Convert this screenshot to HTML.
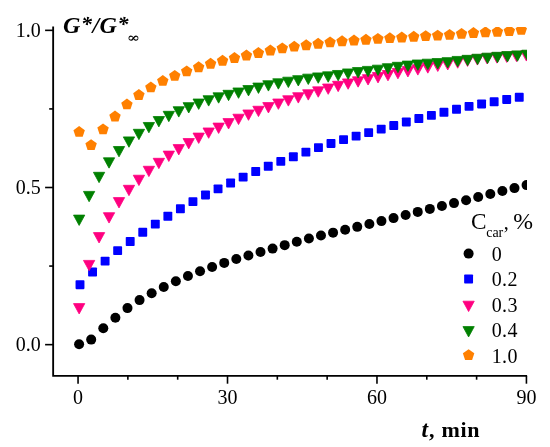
<!DOCTYPE html>
<html><head><meta charset="utf-8"><style>
html,body{margin:0;padding:0;background:#fff;}
body{width:550px;height:447px;overflow:hidden;}
svg{display:block;}
</style></head><body>
<svg width="550" height="447" viewBox="0 0 550 447">
<defs><clipPath id="pc"><rect x="53" y="27" width="474" height="348.6"/></clipPath></defs>
<g clip-path="url(#pc)">
<g fill="#000000"><circle cx="79.10" cy="344.30" r="5"/><circle cx="91.19" cy="339.60" r="5"/><circle cx="103.29" cy="328.20" r="5"/><circle cx="115.38" cy="317.80" r="5"/><circle cx="127.48" cy="308.10" r="5"/><circle cx="139.57" cy="300.10" r="5"/><circle cx="151.66" cy="293.25" r="5"/><circle cx="163.76" cy="286.98" r="5"/><circle cx="175.85" cy="281.23" r="5"/><circle cx="187.95" cy="275.93" r="5"/><circle cx="200.04" cy="271.23" r="5"/><circle cx="212.13" cy="266.98" r="5"/><circle cx="224.23" cy="262.89" r="5"/><circle cx="236.32" cy="259.05" r="5"/><circle cx="248.42" cy="255.45" r="5"/><circle cx="260.51" cy="252.00" r="5"/><circle cx="272.60" cy="248.61" r="5"/><circle cx="284.70" cy="245.15" r="5"/><circle cx="296.79" cy="241.76" r="5"/><circle cx="308.89" cy="238.57" r="5"/><circle cx="320.98" cy="235.57" r="5"/><circle cx="333.07" cy="232.65" r="5"/><circle cx="345.17" cy="229.72" r="5"/><circle cx="357.26" cy="226.85" r="5"/><circle cx="369.36" cy="224.03" r="5"/><circle cx="381.45" cy="221.12" r="5"/><circle cx="393.54" cy="218.10" r="5"/><circle cx="405.64" cy="215.00" r="5"/><circle cx="417.73" cy="211.89" r="5"/><circle cx="429.83" cy="208.88" r="5"/><circle cx="441.92" cy="205.95" r="5"/><circle cx="454.01" cy="203.12" r="5"/><circle cx="466.11" cy="200.20" r="5"/><circle cx="478.20" cy="197.03" r="5"/><circle cx="490.30" cy="193.95" r="5"/><circle cx="502.39" cy="191.05" r="5"/><circle cx="514.48" cy="188.10" r="5"/><circle cx="526.58" cy="185.10" r="5"/></g>
<g fill="#0000FF"><rect x="75.55" y="280.25" width="8.90" height="8.90" rx="0.8"/><rect x="88.10" y="267.55" width="8.90" height="8.90" rx="0.8"/><rect x="100.65" y="256.65" width="8.90" height="8.90" rx="0.8"/><rect x="113.20" y="246.15" width="8.90" height="8.90" rx="0.8"/><rect x="125.75" y="237.05" width="8.90" height="8.90" rx="0.8"/><rect x="138.30" y="227.85" width="8.90" height="8.90" rx="0.8"/><rect x="150.85" y="219.65" width="8.90" height="8.90" rx="0.8"/><rect x="163.40" y="211.78" width="8.90" height="8.90" rx="0.8"/><rect x="175.95" y="204.30" width="8.90" height="8.90" rx="0.8"/><rect x="188.50" y="197.15" width="8.90" height="8.90" rx="0.8"/><rect x="201.05" y="190.50" width="8.90" height="8.90" rx="0.8"/><rect x="213.60" y="184.43" width="8.90" height="8.90" rx="0.8"/><rect x="226.15" y="178.55" width="8.90" height="8.90" rx="0.8"/><rect x="238.70" y="172.70" width="8.90" height="8.90" rx="0.8"/><rect x="251.25" y="167.07" width="8.90" height="8.90" rx="0.8"/><rect x="263.80" y="161.78" width="8.90" height="8.90" rx="0.8"/><rect x="276.35" y="156.89" width="8.90" height="8.90" rx="0.8"/><rect x="288.90" y="152.33" width="8.90" height="8.90" rx="0.8"/><rect x="301.45" y="147.71" width="8.90" height="8.90" rx="0.8"/><rect x="314.00" y="143.18" width="8.90" height="8.90" rx="0.8"/><rect x="326.55" y="139.00" width="8.90" height="8.90" rx="0.8"/><rect x="339.10" y="135.20" width="8.90" height="8.90" rx="0.8"/><rect x="351.65" y="131.65" width="8.90" height="8.90" rx="0.8"/><rect x="364.20" y="128.15" width="8.90" height="8.90" rx="0.8"/><rect x="376.75" y="124.65" width="8.90" height="8.90" rx="0.8"/><rect x="389.30" y="121.10" width="8.90" height="8.90" rx="0.8"/><rect x="401.85" y="117.52" width="8.90" height="8.90" rx="0.8"/><rect x="414.40" y="114.10" width="8.90" height="8.90" rx="0.8"/><rect x="426.95" y="110.88" width="8.90" height="8.90" rx="0.8"/><rect x="439.50" y="107.83" width="8.90" height="8.90" rx="0.8"/><rect x="452.05" y="104.83" width="8.90" height="8.90" rx="0.8"/><rect x="464.60" y="101.90" width="8.90" height="8.90" rx="0.8"/><rect x="477.15" y="99.48" width="8.90" height="8.90" rx="0.8"/><rect x="489.70" y="97.30" width="8.90" height="8.90" rx="0.8"/><rect x="502.25" y="95.00" width="8.90" height="8.90" rx="0.8"/><rect x="514.80" y="92.85" width="8.90" height="8.90" rx="0.8"/></g>
<g fill="#FF0080" stroke="#FF0080" stroke-width="0.8" stroke-linejoin="round"><path d="M73.50 303.60H84.80L79.15 313.95Z"/><path d="M83.46 260.40H94.76L89.11 270.75Z"/><path d="M93.42 232.60H104.72L99.07 242.95Z"/><path d="M103.39 212.70H114.69L109.04 223.05Z"/><path d="M113.35 197.60H124.65L119.00 207.95Z"/><path d="M123.31 185.30H134.61L128.96 195.65Z"/><path d="M133.27 175.22H144.57L138.92 185.57Z"/><path d="M143.23 166.27H154.53L148.88 176.62Z"/><path d="M153.20 158.30H164.50L158.85 168.65Z"/><path d="M163.16 151.12H174.46L168.81 161.47Z"/><path d="M173.12 144.60H184.42L178.77 154.95Z"/><path d="M183.08 138.55H194.38L188.73 148.90Z"/><path d="M193.04 133.08H204.34L198.69 143.43Z"/><path d="M203.01 127.97H214.31L208.66 138.32Z"/><path d="M212.97 123.10H224.27L218.62 133.45Z"/><path d="M222.93 118.62H234.23L228.58 128.97Z"/><path d="M232.89 114.22H244.19L238.54 124.58Z"/><path d="M242.85 109.97H254.15L248.50 120.33Z"/><path d="M252.82 106.25H264.12L258.47 116.60Z"/><path d="M262.78 102.60H274.08L268.43 112.95Z"/><path d="M272.74 99.01H284.04L278.39 109.36Z"/><path d="M282.70 95.77H294.00L288.35 106.12Z"/><path d="M292.66 92.72H303.96L298.31 103.08Z"/><path d="M302.63 89.77H313.93L308.28 100.12Z"/><path d="M312.59 86.87H323.89L318.24 97.22Z"/><path d="M322.55 84.00H333.85L328.20 94.35Z"/><path d="M332.51 81.30H343.81L338.16 91.65Z"/><path d="M342.47 78.92H353.77L348.12 89.27Z"/><path d="M352.44 76.82H363.74L358.09 87.17Z"/><path d="M362.40 74.67H373.70L368.05 85.03Z"/><path d="M372.36 72.55H383.66L378.01 82.90Z"/><path d="M382.32 70.50H393.62L387.97 80.85Z"/><path d="M392.28 68.47H403.58L397.93 78.83Z"/><path d="M402.25 66.62H413.55L407.90 76.98Z"/><path d="M412.21 64.75H423.51L417.86 75.10Z"/><path d="M422.17 62.80H433.47L427.82 73.15Z"/><path d="M432.13 61.13H443.43L437.78 71.48Z"/><path d="M442.09 59.63H453.39L447.74 69.98Z"/><path d="M452.06 57.86H463.36L457.71 68.21Z"/><path d="M461.87 56.09H473.17L467.52 66.44Z"/><path d="M471.68 54.74H482.98L477.33 65.09Z"/><path d="M481.49 53.66H492.79L487.14 64.01Z"/><path d="M491.30 52.80H502.60L496.95 63.15Z"/><path d="M501.12 52.10H512.42L506.77 62.45Z"/><path d="M510.93 51.40H522.23L516.58 61.75Z"/><path d="M520.74 50.70H532.04L526.39 61.05Z"/></g>
<g fill="#008000" stroke="#008000" stroke-width="0.8" stroke-linejoin="round"><path d="M73.50 215.10H84.80L79.15 225.45Z"/><path d="M83.46 191.40H94.76L89.11 201.75Z"/><path d="M93.42 172.30H104.72L99.07 182.65Z"/><path d="M103.39 157.80H114.69L109.04 168.15Z"/><path d="M113.35 146.50H124.65L119.00 156.85Z"/><path d="M123.31 136.90H134.61L128.96 147.25Z"/><path d="M133.27 129.30H144.57L138.92 139.65Z"/><path d="M143.23 122.47H154.53L148.88 132.82Z"/><path d="M153.20 116.53H164.50L158.85 126.88Z"/><path d="M163.16 111.32H174.46L168.81 121.67Z"/><path d="M173.12 106.72H184.42L178.77 117.08Z"/><path d="M183.08 102.65H194.38L188.73 113.00Z"/><path d="M193.04 99.03H204.34L198.69 109.38Z"/><path d="M203.01 95.73H214.31L208.66 106.08Z"/><path d="M212.97 92.82H224.27L218.62 103.17Z"/><path d="M222.93 90.30H234.23L228.58 100.65Z"/><path d="M232.89 87.97H244.19L238.54 98.33Z"/><path d="M242.85 85.57H254.15L248.50 95.92Z"/><path d="M252.82 83.05H264.12L258.47 93.40Z"/><path d="M262.78 80.72H274.08L268.43 91.08Z"/><path d="M272.74 78.79H284.04L278.39 89.14Z"/><path d="M282.70 77.19H294.00L288.35 87.54Z"/><path d="M292.66 75.66H303.96L298.31 86.01Z"/><path d="M302.63 74.15H313.93L308.28 84.50Z"/><path d="M312.59 72.92H323.89L318.24 83.27Z"/><path d="M322.55 71.85H333.85L328.20 82.20Z"/><path d="M332.51 70.47H343.81L338.16 80.83Z"/><path d="M342.47 68.94H353.77L348.12 79.29Z"/><path d="M352.44 67.57H363.74L358.09 77.92Z"/><path d="M362.40 66.40H373.70L368.05 76.75Z"/><path d="M372.36 65.16H383.66L378.01 75.51Z"/><path d="M382.32 63.69H393.62L387.97 74.04Z"/><path d="M392.28 62.30H403.58L397.93 72.65Z"/><path d="M402.25 61.07H413.55L407.90 71.42Z"/><path d="M412.21 59.97H423.51L417.86 70.32Z"/><path d="M422.17 59.20H433.47L427.82 69.55Z"/><path d="M432.13 58.57H443.43L437.78 68.92Z"/><path d="M442.09 57.63H453.39L447.74 67.98Z"/><path d="M452.06 56.43H463.36L457.71 66.78Z"/><path d="M462.02 55.33H473.32L467.67 65.67Z"/><path d="M471.98 54.24H483.28L477.63 64.59Z"/><path d="M481.94 53.16H493.24L487.59 63.51Z"/><path d="M491.90 52.30H503.20L497.55 62.65Z"/><path d="M501.87 51.60H513.17L507.52 61.95Z"/><path d="M511.83 50.90H523.13L517.48 61.25Z"/><path d="M521.79 50.20H533.09L527.44 60.55Z"/></g>
<g fill="#FF8000"><polygon points="79.15,126.00 84.86,130.15 82.68,136.85 75.62,136.85 73.44,130.15"/><polygon points="91.10,139.20 96.81,143.35 94.63,150.05 87.57,150.05 85.39,143.35"/><polygon points="103.05,123.40 108.76,127.55 106.58,134.25 99.52,134.25 97.34,127.55"/><polygon points="115.00,110.60 120.71,114.75 118.53,121.45 111.47,121.45 109.29,114.75"/><polygon points="126.95,98.50 132.66,102.65 130.48,109.35 123.42,109.35 121.24,102.65"/><polygon points="138.90,89.10 144.61,93.25 142.43,99.95 135.37,99.95 133.19,93.25"/><polygon points="150.85,81.50 156.56,85.65 154.38,92.35 147.32,92.35 145.14,85.65"/><polygon points="162.80,75.00 168.51,79.15 166.33,85.85 159.27,85.85 157.09,79.15"/><polygon points="174.75,69.88 180.46,74.02 178.28,80.73 171.22,80.73 169.04,74.02"/><polygon points="186.70,65.40 192.41,69.55 190.23,76.25 183.17,76.25 180.99,69.55"/><polygon points="198.65,61.30 204.36,65.45 202.18,72.15 195.12,72.15 192.94,65.45"/><polygon points="210.60,57.83 216.31,61.97 214.13,68.68 207.07,68.68 204.89,61.97"/><polygon points="222.55,54.80 228.26,58.95 226.08,65.65 219.02,65.65 216.84,58.95"/><polygon points="234.50,52.12 240.21,56.27 238.03,62.98 230.97,62.98 228.79,56.27"/><polygon points="246.45,49.62 252.16,53.77 249.98,60.48 242.92,60.48 240.74,53.77"/><polygon points="258.40,47.05 264.11,51.20 261.93,57.90 254.87,57.90 252.69,51.20"/><polygon points="270.35,44.58 276.06,48.72 273.88,55.43 266.82,55.43 264.64,48.72"/><polygon points="282.30,42.45 288.01,46.60 285.83,53.30 278.77,53.30 276.59,46.60"/><polygon points="294.25,40.75 299.96,44.90 297.78,51.60 290.72,51.60 288.54,44.90"/><polygon points="306.20,39.27 311.91,43.42 309.73,50.13 302.67,50.13 300.49,43.42"/><polygon points="318.15,37.83 323.86,41.97 321.68,48.68 314.62,48.68 312.44,41.97"/><polygon points="330.10,36.42 335.81,40.57 333.63,47.28 326.57,47.28 324.39,40.57"/><polygon points="342.05,35.30 347.76,39.45 345.58,46.15 338.52,46.15 336.34,39.45"/><polygon points="354.00,34.52 359.71,38.67 357.53,45.38 350.47,45.38 348.29,38.67"/><polygon points="365.95,33.80 371.66,37.95 369.48,44.65 362.42,44.65 360.24,37.95"/><polygon points="377.90,32.97 383.61,37.12 381.43,43.83 374.37,43.83 372.19,37.12"/><polygon points="389.85,32.25 395.56,36.40 393.38,43.10 386.32,43.10 384.14,36.40"/><polygon points="401.80,31.60 407.51,35.75 405.33,42.45 398.27,42.45 396.09,35.75"/><polygon points="413.75,30.83 419.46,34.97 417.28,41.68 410.22,41.68 408.04,34.97"/><polygon points="425.70,30.15 431.41,34.30 429.23,41.00 422.17,41.00 419.99,34.30"/><polygon points="437.65,29.67 443.36,33.82 441.18,40.53 434.12,40.53 431.94,33.82"/><polygon points="449.60,28.95 455.31,33.10 453.13,39.80 446.07,39.80 443.89,33.10"/><polygon points="461.55,27.92 467.26,32.07 465.08,38.78 458.02,38.78 455.84,32.07"/><polygon points="473.50,27.05 479.21,31.20 477.03,37.90 469.97,37.90 467.79,31.20"/><polygon points="485.45,26.38 491.16,30.52 488.98,37.23 481.92,37.23 479.74,30.52"/><polygon points="497.40,25.77 503.11,29.92 500.93,36.63 493.87,36.63 491.69,29.92"/><polygon points="509.35,25.07 515.06,29.22 512.88,35.93 505.82,35.93 503.64,29.22"/><polygon points="521.30,24.00 527.01,28.15 524.83,34.85 517.77,34.85 515.59,28.15"/></g>
</g>
<g stroke="#000" stroke-width="1.6" fill="none">
<path d="M53.15 26.6V375.9H527.1" stroke-width="1.85" stroke-linejoin="miter"/>
<line x1="45.1" y1="344.65" x2="53.1" y2="344.65"/><line x1="45.1" y1="187.50" x2="53.1" y2="187.50"/><line x1="45.1" y1="30.35" x2="53.1" y2="30.35"/><line x1="49.2" y1="266.07" x2="53.1" y2="266.07"/><line x1="49.2" y1="108.92" x2="53.1" y2="108.92"/><line x1="78.05" y1="375.9" x2="78.05" y2="383.70"/><line x1="127.87" y1="375.9" x2="127.87" y2="379.70"/><line x1="177.69" y1="375.9" x2="177.69" y2="379.70"/><line x1="227.51" y1="375.9" x2="227.51" y2="383.70"/><line x1="277.33" y1="375.9" x2="277.33" y2="379.70"/><line x1="327.15" y1="375.9" x2="327.15" y2="379.70"/><line x1="376.97" y1="375.9" x2="376.97" y2="383.70"/><line x1="426.79" y1="375.9" x2="426.79" y2="379.70"/><line x1="476.61" y1="375.9" x2="476.61" y2="379.70"/><line x1="526.43" y1="375.9" x2="526.43" y2="383.70"/>
</g>
<g font-family="'Liberation Serif', 'Times New Roman', serif" font-size="20" fill="#000">
<text x="40.7" y="36.75" text-anchor="end">1.0</text><text x="40.7" y="193.90" text-anchor="end">0.5</text><text x="40.7" y="351.05" text-anchor="end">0.0</text>
<text x="78.05" y="403.5" text-anchor="middle">0</text><text x="227.51" y="403.5" text-anchor="middle">30</text><text x="376.97" y="403.5" text-anchor="middle">60</text><text x="526.43" y="403.5" text-anchor="middle">90</text>
<text x="63.0" y="33.0" font-size="24" font-weight="bold" font-style="italic" textLength="65.5" lengthAdjust="spacing">G<tspan dy="-1.6" font-size="22">*</tspan><tspan dy="1.6">/G</tspan><tspan dy="-1.6" font-size="22">*</tspan></text>
<text transform="translate(127.1,41.9) scale(1.06,0.9)" font-family="'DejaVu Serif', serif" font-size="14.5" font-weight="bold" font-style="italic">&#8734;</text>
<text x="421.6" y="436.8" font-size="22" font-weight="bold" textLength="58" lengthAdjust="spacing"><tspan font-style="italic" font-size="23.5">t</tspan>, min</text>
<text transform="translate(471.0,229.1) scale(0.97,1)" font-size="24">C</text>
<text x="486.2" y="237.3" font-size="14">car</text>
<text x="503.7" y="229.1">,</text>
<text transform="translate(513.3,229.1) scale(1.05,1)" font-size="22.6">%</text>
<g fill="#000000"><circle cx="468.60" cy="253.60" r="5"/></g><text x="491.8" y="260.90" letter-spacing="0.3">0</text><g fill="#0000FF"><rect x="464.15" y="274.55" width="8.90" height="8.90" rx="0.8"/></g><text x="491.8" y="286.30" letter-spacing="0.3">0.2</text><g fill="#FF0080" stroke="#FF0080" stroke-width="0.8" stroke-linejoin="round"><path d="M462.95 301.20H474.25L468.60 311.55Z"/></g><text x="491.8" y="311.70" letter-spacing="0.3">0.3</text><g fill="#008000" stroke="#008000" stroke-width="0.8" stroke-linejoin="round"><path d="M462.95 326.60H474.25L468.60 336.95Z"/></g><text x="491.8" y="337.10" letter-spacing="0.3">0.4</text><g fill="#FF8000"><polygon points="468.60,349.20 474.31,353.35 472.13,360.05 465.07,360.05 462.89,353.35"/></g><text x="491.8" y="362.50" letter-spacing="0.3">1.0</text>
</g>
</svg>
</body></html>
